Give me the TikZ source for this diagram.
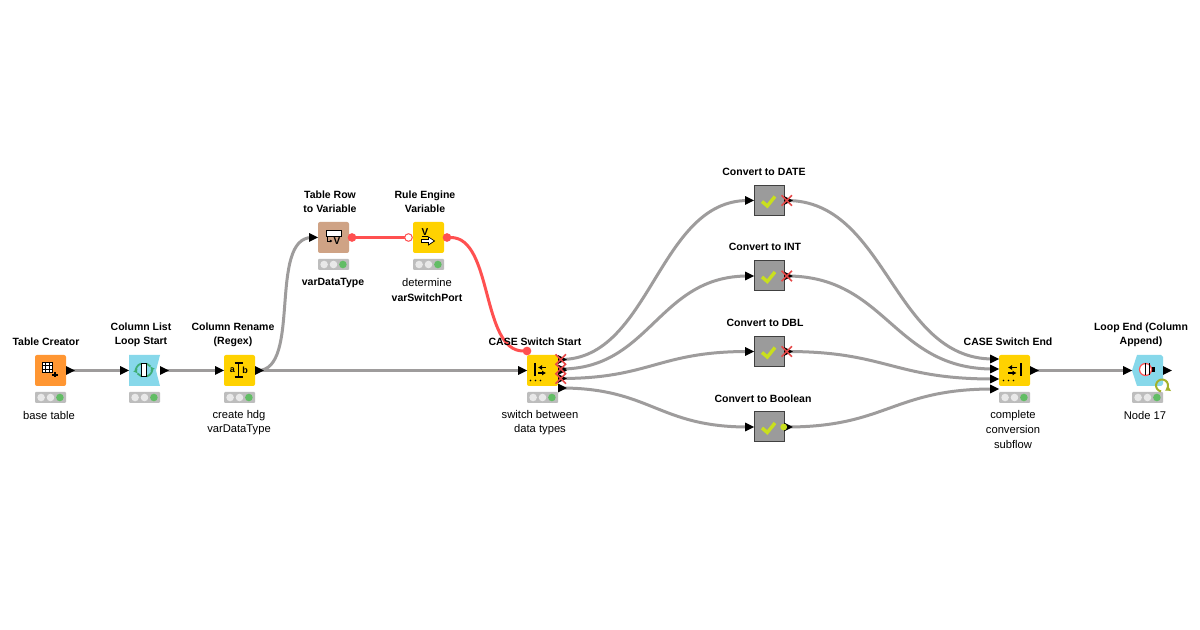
\documentclass[tikz,border=0pt]{standalone}
\usepackage{fontspec}
\setmainfont{Liberation Sans}
\usetikzlibrary{positioning,arrows.meta,shapes.geometric,shapes.misc}
\definecolor{knorange}{HTML}{FF9632}
\definecolor{kncyan}{HTML}{87D8EA}
\definecolor{knyellow}{HTML}{FFD200}
\definecolor{knbrown}{HTML}{CFA385}
\definecolor{kngray}{HTML}{9B9B9B}
\definecolor{knline}{HTML}{9E9C9C}
\definecolor{knred}{HTML}{FF5050}
\definecolor{knlight}{HTML}{BDBDBD}
\definecolor{knlamp}{HTML}{E8E8E8}
\definecolor{kngreen}{HTML}{62BD65}
\definecolor{knloop}{HTML}{3FAE74}
\definecolor{kncheck}{HTML}{C9DF1E}
\definecolor{knolive}{HTML}{A3B22C}
\tikzset{
bodybox/.style={
  rectangle,
  rounded corners=1pt,
  inner sep=0pt,
  outer sep=0pt,
  minimum size=15.5pt
  },
metabox/.style={
  rectangle,
  draw=black!75,
  line width=.5pt,
  fill=kngray,
  inner sep=0pt,
  outer sep=0pt,
  minimum size=15pt
  },
port/.style={
  isosceles triangle,
  isosceles triangle stretches,
  fill=black,
  inner sep=0pt,
  outer sep=0pt,
  minimum width=4.4pt,
  minimum height=4.4pt
  },
varport/.style={
  circle,
  draw=knred,
  line width=.5pt,
  inner sep=0pt,
  outer sep=0pt,
  minimum size=3.8pt
  },
deadport/.style={
  cross out,
  draw=knred!90!black,
  line width=.85pt,
  inner sep=0pt,
  outer sep=0pt,
  minimum size=5.2pt
  },
lightbar/.style={
  rectangle,
  rounded corners=.5pt,
  fill=knlight,
  inner sep=0pt,
  outer sep=0pt,
  minimum width=15.5pt,
  minimum height=5.5pt
  },
lamp/.style={
  circle,
  fill=knlamp,
  inner sep=0pt,
  outer sep=0pt,
  minimum size=3.8pt
  },
title/.style={
  align=center,
  font=\fontsize{5.25}{7.2}\selectfont\bfseries
  },
note/.style={
  align=center,
  font=\fontsize{5.6}{7.3}\selectfont
  },
flow/.style={draw=knline,line width=1.5pt},
varflow/.style={draw=knred,line width=1.5pt}
}
\pgfdeclarelayer{background}
\pgfsetlayers{background,main}

\begin{document}
\begin{tikzpicture}[x=.5pt,y=-.5pt,>=latex]
\begin{pgfonlayer}{background}
\useasboundingbox[fill=white] (0,0) rectangle (1200,630);
\end{pgfonlayer}

% node bodies
\node[bodybox,fill=knorange] (tc) at (50.5,370.5) {};
\node[bodybox] (cl) at (144.5,370.5) {};
\node[bodybox,fill=knyellow] (cr) at (239.5,370.5) {};
\node[bodybox,fill=knbrown] (tr) at (333.5,237.5) {};
\node[bodybox,fill=knyellow] (re) at (428.5,237.5) {};
\node[bodybox,fill=knyellow] (cs) at (542.5,370.5) {};
\node[bodybox,fill=knyellow] (ce) at (1014.5,370.5) {};
\node[bodybox] (le) at (1147.5,370.5) {};
\node[metabox] (date) at (769,200.5) {};
\node[metabox] (int) at (769,276) {};
\node[metabox] (dbl) at (769,351.5) {};
\node[metabox] (bool) at (769,427) {};

\fill[kncyan] (cl.north west) -- (cl.north east) -- ([xshift=-2pt]cl.east)
  -- (cl.south east) -- (cl.south west) -- cycle;
\fill[kncyan] ([xshift=2.5pt]le.north west) -- ([xshift=-1pt]le.north east)
  -- ([yshift=-1pt]le.north east) -- ([yshift=1pt]le.south east) -- ([xshift=-1pt]le.south east)
  -- ([xshift=2.5pt]le.south west) -- (le.west) -- cycle;

% status lights
\foreach \nm in {tc,cl,cr,tr,re,cs,ce,le}{
  \node[lightbar,below=3pt of \nm] (\nm-bar) {};
  \node[lamp] (\nm-l1) at ([xshift=-4.7pt]\nm-bar.center) {};
  \node[lamp] (\nm-l2) at (\nm-bar.center) {};
  \node[lamp,fill=kngreen] (\nm-l3) at ([xshift=4.7pt]\nm-bar.center) {};
}

% ports
\foreach \nm in {tc,cl,cr,cs,ce,le}{
  \node[port,right=0pt of \nm] (\nm-out) {};
}
\foreach \nm in {cl,cr,tr,cs,le,date,int,dbl,bool}{
  \node[port,left=0pt of \nm] (\nm-in) {};
}
\foreach \nm in {date,int,dbl}{
  \node[port,right=0pt of \nm] (\nm-out) {};
  \node[deadport] (\nm-x) at (\nm-out.center) {};
}
\node[port,right=0pt of bool] (bool-out) {};
\node[circle,fill=kncheck,inner sep=0pt,minimum size=3.4pt] (bool-dot) at ([xshift=-1.5pt]bool-out.center) {};

\node[port,anchor=west] (cs-o1) at (558,359.5) {};
\node[port,anchor=west] (cs-o2) at (558,369) {};
\node[port,anchor=west] (cs-o3) at (558,378.5) {};
\node[port,anchor=west] (cs-o4) at (558,388) {};
\node[deadport] (cs-x1) at (cs-o1.center) {};
\node[deadport] (cs-x2) at (cs-o2.center) {};
\node[deadport] (cs-x3) at (cs-o3.center) {};
\node[port,anchor=east] (ce-i1) at (999,359) {};
\node[port,anchor=east] (ce-i2) at (999,369) {};
\node[port,anchor=east] (ce-i3) at (999,379) {};
\node[port,anchor=east] (ce-i4) at (999,389) {};

\node[varport,fill=knred] (tr-var) at (352,237.5) {};
\node[varport,fill=white] (re-in) at (408.5,237.5) {};
\node[varport,fill=knred] (re-out) at (447,237.5) {};
\node[varport,fill=knred] (cs-var) at (527,351) {};

% connectors
\begin{pgfonlayer}{background}
\draw[flow] (tc-out.center) -- (cl-in.center);
\draw[flow] (cl-out.center) -- (cr-in.center);
\draw[flow] (cr-out.center) -- (cs-in.center);
\draw[flow] (cr-out.center) .. controls +(44,0) and +(-44,0) .. (tr-in.center);
\draw[flow] (cs-o1.center) .. controls +(90,0) and +(-90,0) .. (date-in.center);
\draw[flow] (cs-o2.center) .. controls +(90,0) and +(-90,0) .. (int-in.center);
\draw[flow] (cs-o3.center) .. controls +(90,0) and +(-90,0) .. (dbl-in.center);
\draw[flow] (cs-o4.center) .. controls +(90,0) and +(-90,0) .. (bool-in.center);
\draw[flow] (date-out.center) .. controls +(100,0) and +(-100,0) .. (ce-i1.center);
\draw[flow] (int-out.center) .. controls +(100,0) and +(-100,0) .. (ce-i2.center);
\draw[flow] (dbl-out.center) .. controls +(100,0) and +(-100,0) .. (ce-i3.center);
\draw[flow] (bool-out.center) .. controls +(100,0) and +(-100,0) .. (ce-i4.center);
\draw[flow] (ce-out.center) -- (le-in.center);
\draw[varflow] (tr-var) -- (re-in);
\draw[varflow] (re-out) .. controls +(46,0) and +(-46,0) .. (cs-var);
\end{pgfonlayer}

% check marks
\foreach \nm in {date,int,dbl,bool}{
  \begin{scope}[shift={(\nm.center)}]
  \draw[kncheck,line width=1.7pt] (-7,1) -- (-1.7,5.5) -- (6,-4);
  \end{scope}
}

% icons
\begin{scope}[shift={(tc.center)}]
\draw[line width=.25pt,fill=white] (-8,-8) rectangle (1.5,1.5);
\draw[line width=.35pt] (-8,-4.8) -- (1.5,-4.8) (-8,-1.6) -- (1.5,-1.6) (-4.8,-8) -- (-4.8,1.5) (-1.6,-8) -- (-1.6,1.5);
\draw[line width=.6pt] (1.5,4.5) -- (7,4.5) (4.5,2) -- (4.5,7);
\end{scope}

\begin{scope}[shift={(cl.center)}]
\draw[knloop,line width=.9pt,-{Latex[length=2pt,width=2.6pt]}] (-3,-7) .. controls (-8,-6) and (-9,0) .. (-7,3);
\draw[knloop,line width=.9pt,-{Latex[length=2pt,width=2.6pt]}] (2,6) .. controls (7,5) and (8,-1) .. (6,-4);
\draw[knloop,line width=.9pt] (-7,3) -- (-3,6) (6,-4) -- (2,-7);
\draw[line width=.35pt,fill=white] (-3,-7.5) rectangle (2,5.5);
\end{scope}

\begin{scope}[shift={(cr.center)}]
\draw[line width=.6pt] (-1,-7.5) -- (-1,6.5) (-5,-7.5) -- (3,-7.5) (-5,6.5) -- (3,6.5);
\node[font=\fontsize{4.5}{5}\selectfont\bfseries] (cr-a) at (-7,0) {a};
\node[font=\fontsize{4.5}{5}\selectfont\bfseries] (cr-b) at (5.5,0) {b};
\end{scope}

\begin{scope}[shift={(tr.center)}]
\draw[line width=.4pt,fill=white] (-7.5,-7.5) rectangle (8,-1.5);
\draw[line width=.35pt,-{Latex[length=1.3pt,width=1.6pt]}] (-6,0) -- (-6,3.5) -- (-1,3.5);
\node[font=\fontsize{5}{5}\selectfont\bfseries] (tr-v) at (3.5,4) {V};
\end{scope}

\begin{scope}[shift={(re.center)}]
\node[font=\fontsize{5}{5}\selectfont\bfseries] (re-v) at (-3.5,-5) {V};
\draw[line width=.5pt] (-7,-1) -- (-1,-1);
\draw[line width=.35pt,fill=white] (-7,2) -- (0,2) -- (0,-.5) -- (6,3.5) -- (0,7.5) -- (0,5) -- (-7,5) -- cycle;
\end{scope}

\begin{scope}[shift={(cs.center)}]
\draw[line width=.7pt] (-7.5,-7.5) -- (-7.5,6);
\draw[line width=.55pt,{Latex[length=2pt,width=2.6pt]}-] (-4.5,-3) -- (3.5,-3);
\draw[line width=.55pt,-{Latex[length=2pt,width=2.6pt]}] (-4.5,2.5) -- (3.5,2.5);
\foreach \dx in {-12,-7,-2}{
  \fill (\dx,10) circle[radius=.8];
}
\end{scope}

\begin{scope}[shift={(ce.center)}]
\draw[line width=.7pt] (6.5,-7.5) -- (6.5,6);
\draw[line width=.55pt,{Latex[length=2pt,width=2.6pt]}-] (-6.5,-3) -- (2,-3);
\draw[line width=.55pt,-{Latex[length=2pt,width=2.6pt]}] (-6.5,2.5) -- (2,2.5);
\foreach \dx in {-11,-6,-1}{
  \fill (\dx,10) circle[radius=.8];
}
\end{scope}

\begin{scope}[shift={(le.center)}]
\fill (2,-3) rectangle (7,2);
\draw[knred,line width=.6pt,fill=white] (-2,-1) circle[radius=6];
\draw[line width=.35pt] (-2,-7) -- (-2,5) (2,-7) -- (2,5);
\draw[knolive,line width=1pt,-{Latex[length=2.5pt,width=3.6pt]}] (13.5,20.9) arc[start angle=100,end angle=420,radius=6];
\end{scope}

% labels
\node[title] (tc-title) at (46,341.5) {Table Creator};
\node[title] (cl-title) at (141,335) {Column List\\Loop Start};
\node[title] (cr-title) at (233,335) {Column Rename\\(Regex)};
\node[title] (tr-title) at (330,202) {Table Row\\to Variable};
\node[title] (re-title) at (425,202) {Rule Engine\\Variable};
\node[title] (cs-title) at (535,341.5) {CASE Switch Start};
\node[title] (ce-title) at (1008,341.5) {CASE Switch End};
\node[title] (le-title) at (1141,335) {Loop End (Column\\Append)};
\node[title] (date-title) at (764,172) {Convert to DATE};
\node[title] (int-title) at (765,247) {Convert to INT};
\node[title] (dbl-title) at (765,323) {Convert to DBL};
\node[title] (bool-title) at (763,399) {Convert to Boolean};

\node[note] (tc-note) at (49,415) {base table};
\node[note] (cr-note) at (239,422.5) {create hdg\\varDataType};
\node[title] (tr-note) at (333,283) {varDataType};
\node[note] (re-note) at (427,290) {determine\\\fontsize{5.25}{7.3}\selectfont\textbf{varSwitchPort}};
\node[note] (cs-note) at (540,422.5) {switch between\\data types};
\node[note] (ce-note) at (1013,429.5) {complete\\conversion\\subflow};
\node[note] (le-note) at (1145,415) {Node 17};
\end{tikzpicture}
\end{document}
